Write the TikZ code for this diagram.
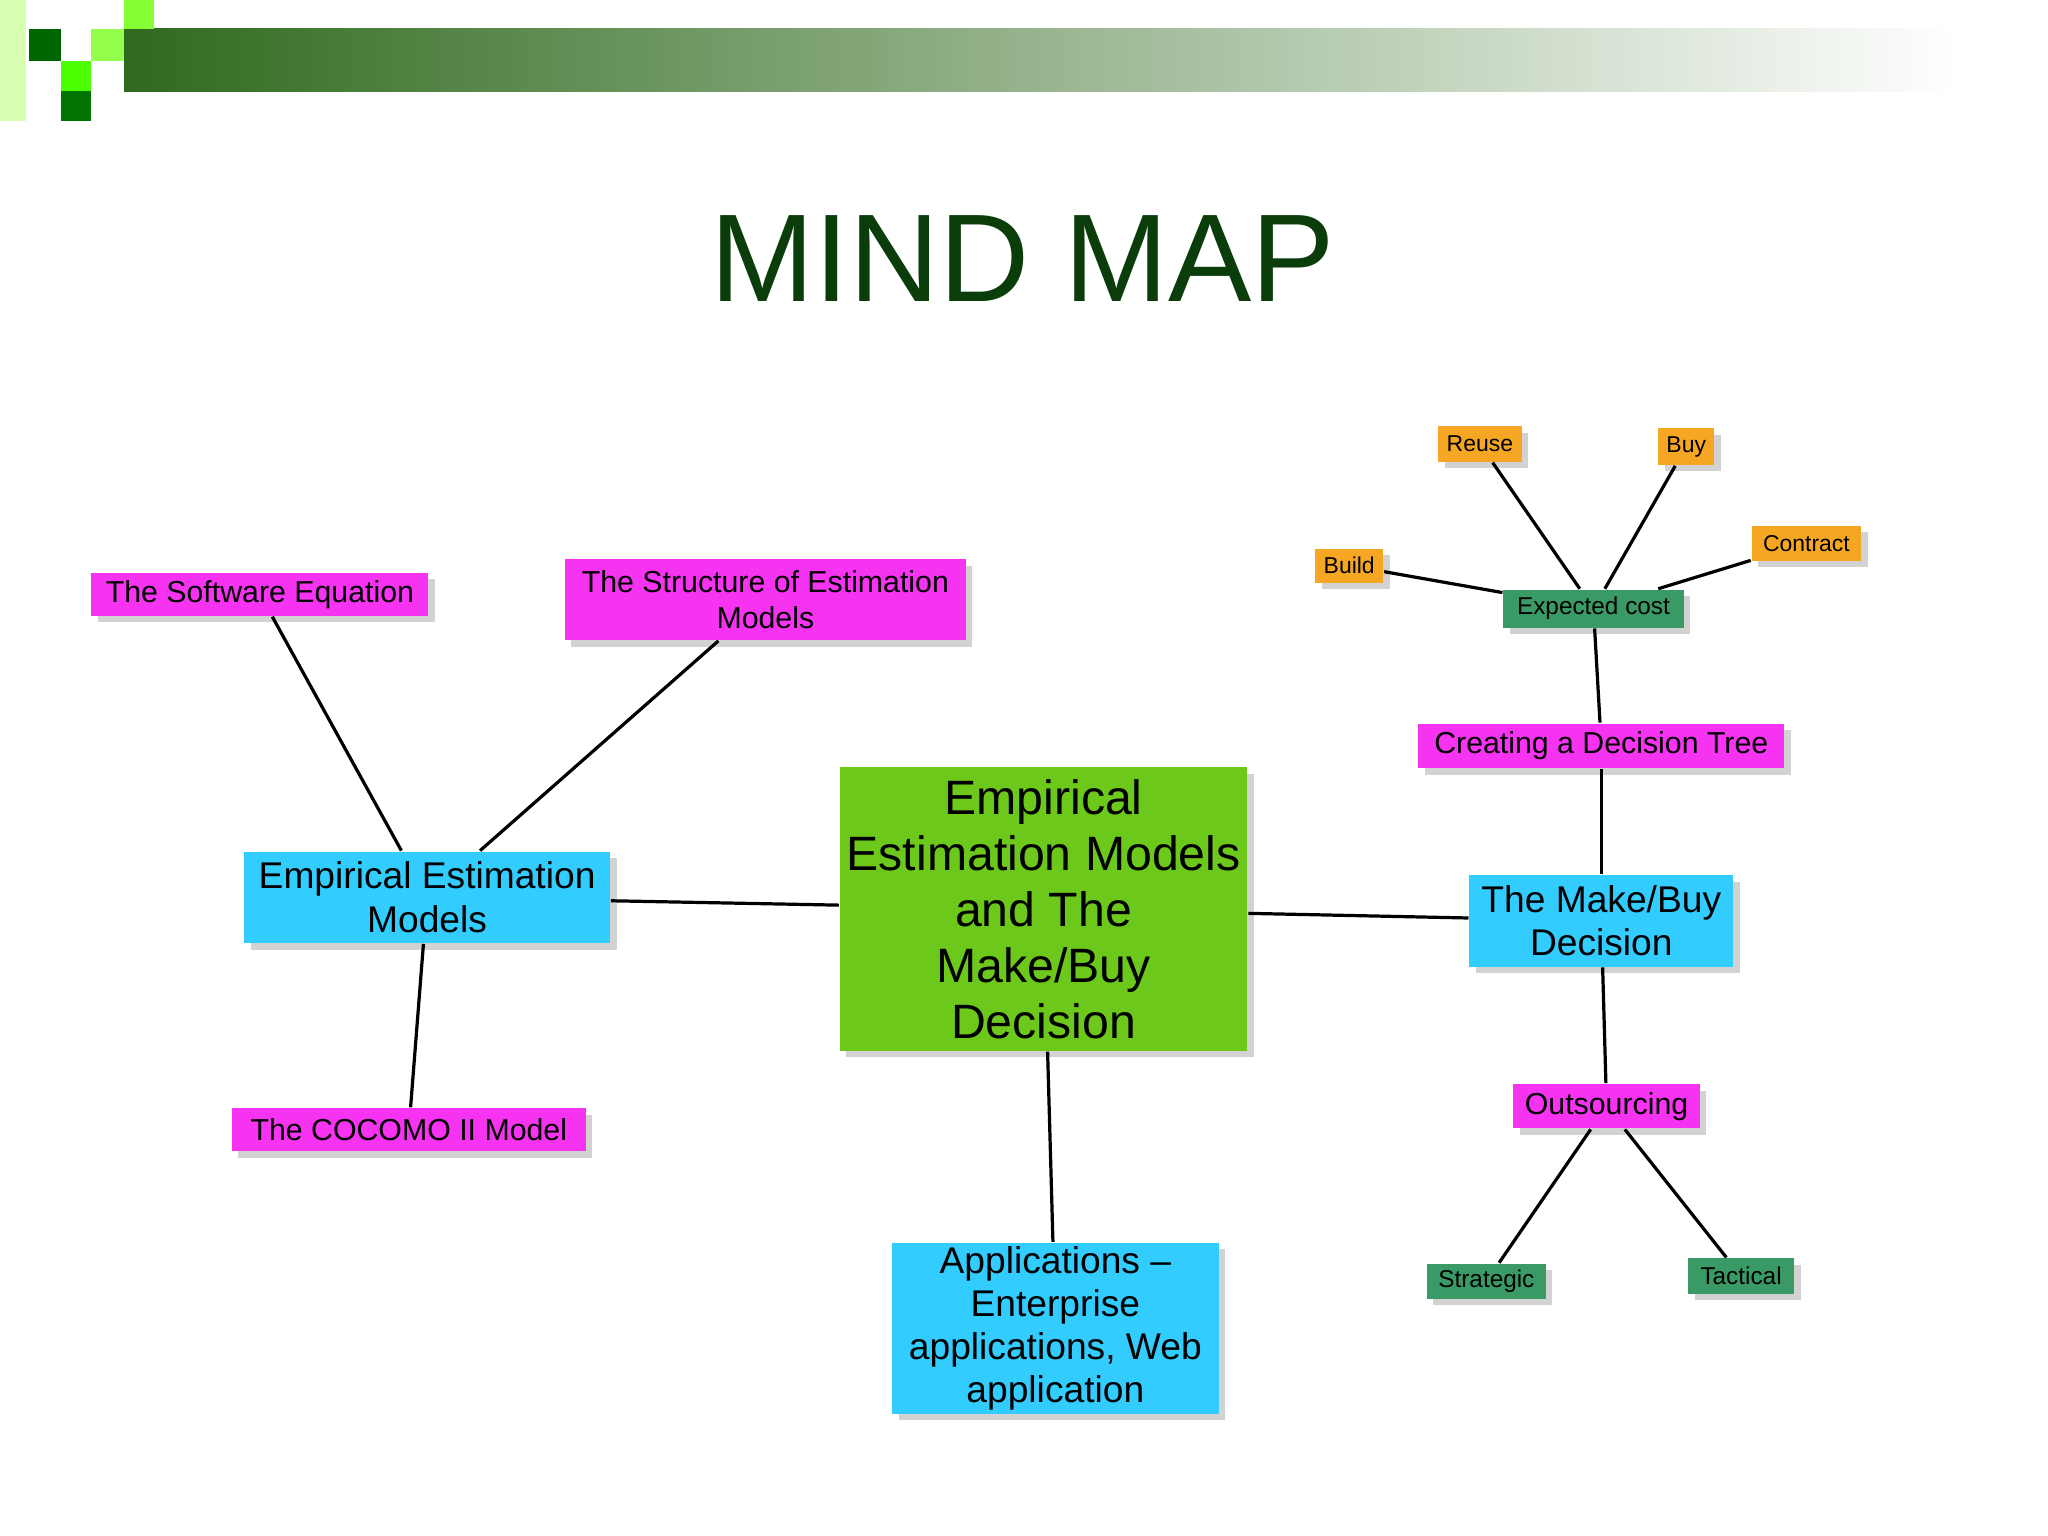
\documentclass[tikz,border=0pt]{standalone}
\usepackage{fontspec}
\setmainfont{Liberation Sans}
\usetikzlibrary{shadows}
\definecolor{cgreen}{HTML}{6CC81A}
\definecolor{ccyan}{HTML}{33CCFF}
\definecolor{cpink}{HTML}{F533F0}
\definecolor{corange}{HTML}{F5A623}
\definecolor{cdark}{HTML}{3A9A66}
\definecolor{ctitle}{HTML}{0B3D0B}
\definecolor{hdark}{HTML}{2F6A1E}
\definecolor{hmid}{HTML}{A8B4A0}
\tikzset{
 box/.style={rectangle,inner sep=0pt,align=center,drop shadow={shadow xshift=0.05cm,shadow yshift=-0.05cm,opacity=0.35}},
 bigbox/.style={box,fill=cgreen,font=\fontsize{10.5}{12.2}\selectfont},
 bluebox/.style={box,fill=ccyan,font=\fontsize{8.1}{9.4}\selectfont},
 pinkbox/.style={box,fill=cpink,font=\fontsize{6.6}{7.8}\selectfont},
 orbox/.style={box,fill=corange,font=\fontsize{5.0}{6}\selectfont},
 dkbox/.style={box,fill=cdark,font=\fontsize{5.3}{6.2}\selectfont},
 link/.style={line width=0.7pt,black}
}
\begin{document}
\begin{tikzpicture}
\useasboundingbox (0,0) rectangle (15.68,11.76);
\fill[white] (0,0) rectangle (15.68,11.76);
% header
\shade[left color=hdark, middle color=hmid, right color=white] (0.95,11.54) rectangle (15.0,11.06);
\fill[green!50!yellow!30] (0,11.76) rectangle (0.2,10.83);
\fill[green!40!black] (0.22,11.54) rectangle (0.47,11.29);
\fill[green!60!yellow!70] (0.70,11.54) rectangle (0.95,11.29);
\fill[green!60!yellow!80] (0.95,11.76) rectangle (1.18,11.54);
\fill[green!70!yellow] (0.47,11.29) rectangle (0.70,11.06);
\fill[green!45!black] (0.47,11.06) rectangle (0.70,10.83);
\node (title) at (7.83,9.78) {\fontsize{27.2}{31}\selectfont\color{ctitle}MIND MAP};
% nodes
\node[bigbox,minimum width=3.12cm,minimum height=2.17cm] (c) at (7.99,4.80) {Empirical\\Estimation Models\\and The\\Make/Buy\\Decision};
\node[bluebox,minimum width=2.80cm,minimum height=0.70cm] (eem) at (3.27,4.89) {Empirical Estimation\\Models};
\node[bluebox,minimum width=2.02cm,minimum height=0.70cm] (mb) at (12.26,4.71) {The Make/Buy\\Decision};
\node[bluebox,minimum width=2.50cm,minimum height=1.31cm] (app) at (8.08,1.59) {Applications --\\Enterprise\\applications, Web\\application};
\node[pinkbox,minimum width=2.58cm,minimum height=0.33cm] (sw) at (1.99,7.21) {The Software Equation};
\node[pinkbox,minimum width=3.07cm,minimum height=0.62cm] (st) at (5.86,7.17) {The Structure of Estimation\\Models};
\node[pinkbox,minimum width=2.71cm,minimum height=0.33cm] (co) at (3.13,3.11) {The COCOMO II Model};
\node[pinkbox,minimum width=2.80cm,minimum height=0.34cm] (dt) at (12.26,6.05) {Creating a Decision Tree};
\node[pinkbox,minimum width=1.43cm,minimum height=0.34cm] (ou) at (12.30,3.29) {Outsourcing};
\node[orbox,minimum width=0.64cm,minimum height=0.27cm] (reuse) at (11.33,8.36) {Reuse};
\node[orbox,minimum width=0.43cm,minimum height=0.28cm] (buy) at (12.91,8.34) {Buy};
\node[orbox,minimum width=0.52cm,minimum height=0.26cm] (build) at (10.33,7.43) {Build};
\node[orbox,minimum width=0.84cm,minimum height=0.27cm] (contract) at (13.83,7.60) {Contract};
\node[dkbox,minimum width=1.38cm,minimum height=0.29cm] (ec) at (12.20,7.10) {Expected cost};
\node[dkbox,minimum width=0.91cm,minimum height=0.27cm] (strat) at (11.38,1.95) {Strategic};
\node[dkbox,minimum width=0.81cm,minimum height=0.27cm] (tact) at (13.33,1.99) {Tactical};
% links
\draw[link] (c) -- (eem);
\draw[link] (c) -- (mb);
\draw[link] (c) -- (app);
\draw[link] (eem) -- (sw);
\draw[link] (eem) -- (st);
\draw[link] (eem) -- (co);
\draw[link] (mb) -- (dt);
\draw[link] (mb) -- (ou);
\draw[link] (dt) -- (ec);
\draw[link] (ec) -- (reuse);
\draw[link] (ec) -- (buy);
\draw[link] (ec) -- (build);
\draw[link] (ec) -- (contract);
\draw[link] (ou) -- (strat);
\draw[link] (ou) -- (tact);
\end{tikzpicture}
\end{document}
